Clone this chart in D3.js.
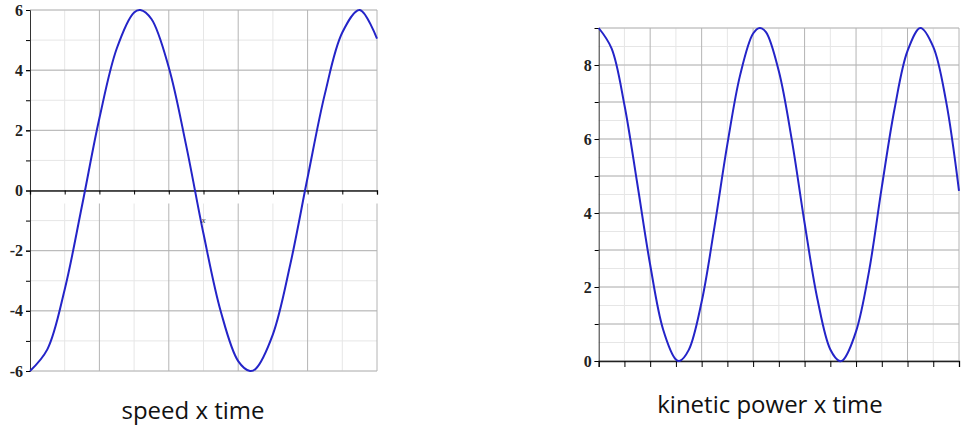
<!DOCTYPE html>
<html><head><meta charset="utf-8">
<script src="https://cdn.jsdelivr.net/npm/d3@7"></script>
<style>body{margin:0;background:#fff}</style>
</head><body>
<svg id="chart" width="963" height="430"></svg>
<script>
// speed x time (x in grid units)
var speedX = [0,0.25,0.5,0.75,1,1.25,1.5,1.59,1.75,2,2.25,2.5,2.75,3,3.17,3.25,3.5,3.75,4,4.25,4.5,4.75,5];
var speedY = [-6,-5.28,-3.29,-0.5,2.4,4.72,5.92,6,5.7,4.09,1.5,-1.44,-4.03,-5.67,-6,-5.93,-4.78,-2.46,0.43,3.22,5.25,6,5.05];
var speedTicks = [-6,-4,-2,0,2,4,6];

// kinetic power x time
var powerX = [0,0.25,0.5,0.75,1,1.25,1.5,1.57,1.75,2,2.25,2.5,2.75,3,3.13,3.25,3.5,3.75,4,4.25,4.5,4.68,4.75,5,5.25,5.5,5.75,6,6.25,6.5,6.75,7];
var powerY = [9,8.45,6.92,4.79,2.6,0.86,0.04,0,0.3,1.6,3.63,5.86,7.74,8.85,9,8.89,7.83,5.99,3.73,1.67,0.31,0,0.03,0.8,2.41,4.7,6.83,8.38,9,8.49,7.01,4.6];
var powerTicks = [0,2,4,6,8];

var svg = d3.select("#chart");
var blue = "#2424c8";

function panel(o) {
  var x = d3.scaleLinear().domain([0, o.xMax]).range([o.left, o.right]);
  var y = d3.scaleLinear().domain(o.yDom).range([o.bottom, o.top]);
  var g = svg.append("g");
  // minor grid
  g.selectAll(".vmin").data(d3.range(0.5, o.xMax, 1)).enter().append("line")
    .attr("x1", x).attr("x2", x).attr("y1", o.top).attr("y2", o.bottom)
    .attr("stroke", "#e6e6e6");
  g.selectAll(".hmin").data(d3.range(o.yDom[0], o.yDom[1] + 0.01, o.minorStep)).enter().append("line")
    .attr("x1", o.left).attr("x2", o.right).attr("y1", y).attr("y2", y)
    .attr("stroke", "#e6e6e6");
  // major grid
  g.selectAll(".vmaj").data(d3.range(1, o.xMax + 0.01, 1)).enter().append("line")
    .attr("x1", x).attr("x2", x).attr("y1", o.top).attr("y2", o.bottom)
    .attr("stroke", "#b4b4b4");
  g.selectAll(".hmaj").data(d3.range(o.yDom[0], o.yDom[1] + 0.01, o.majorStep)).enter().append("line")
    .attr("x1", o.left).attr("x2", o.right).attr("y1", y).attr("y2", y)
    .attr("stroke", "#b4b4b4");
  if (o.gap) {
    g.append("rect").attr("x", o.left + 1).attr("y", y(0) + 2)
      .attr("width", o.right - o.left + 2).attr("height", 11).attr("fill", "#fff");
  }
  // y axis
  var yAxis = d3.axisLeft(y).tickValues(o.yTicks).tickSize(4)
    .tickFormat(function (d) { return String(d); });
  var ya = g.append("g").attr("transform", "translate(" + o.left + ",0)").call(yAxis)
    .attr("font-family", "Liberation Serif").attr("font-size", 16);
  ya.select(".domain").attr("stroke", "#333");
  ya.selectAll("text").attr("font-weight", "bold").attr("fill", "#222");
  var ym = d3.axisLeft(y).ticks(o.yDom[1] - o.yDom[0]).tickSize(4).tickFormat("");
  g.append("g").attr("transform", "translate(" + o.left + ",0)").call(ym).select(".domain").remove();
  // x axis
  var xa = g.append("g").attr("transform", "translate(0," + y(o.xAxisAt) + ")")
    .call(d3.axisBottom(x).tickValues(d3.range(0, o.xMax + 0.01, 0.5)).tickSize(o.xTick).tickFormat(""));
  xa.select(".domain").attr("stroke", "#222").attr("stroke-width", 1.3);
  // curve
  var pts = o.xs.map(function (d, i) { return [d, o.ys[i]]; });
  g.append("path").datum(pts)
    .attr("d", d3.line().x(function (d) { return x(d[0]); }).y(function (d) { return y(d[1]); })
      .curve(d3.curveCatmullRom.alpha(0.5)))
    .attr("fill", "none").attr("stroke", blue).attr("stroke-width", 2);
  svg.append("text").attr("x", o.titleX).attr("y", o.titleY).attr("text-anchor", "middle")
    .attr("font-family", "Open Sans").attr("font-size", 24).attr("fill", "#111").text(o.title);
  return { x: x, y: y };
}

var left = panel({ left: 30, right: 377, top: 10, bottom: 371, xMax: 5, yDom: [-6, 6],
  minorStep: 1, majorStep: 2, yTicks: speedTicks, xAxisAt: 0, xTick: 4, gap: true,
  xs: speedX, ys: speedY, title: "speed x time", titleX: 193, titleY: 419 });
svg.append("text").attr("x", left.x(2.47)).attr("y", 223).attr("font-family", "Liberation Serif")
  .attr("font-style", "italic").attr("font-size", 9).attr("fill", "#333").text("x");

panel({ left: 598.7, right: 959, top: 28, bottom: 361, xMax: 7, yDom: [0, 9],
  minorStep: 0.5, majorStep: 1, yTicks: powerTicks, xAxisAt: 0, xTick: 6, gap: false,
  xs: powerX, ys: powerY, title: "kinetic power x time", titleX: 770, titleY: 413 });
</script>
</body></html>
